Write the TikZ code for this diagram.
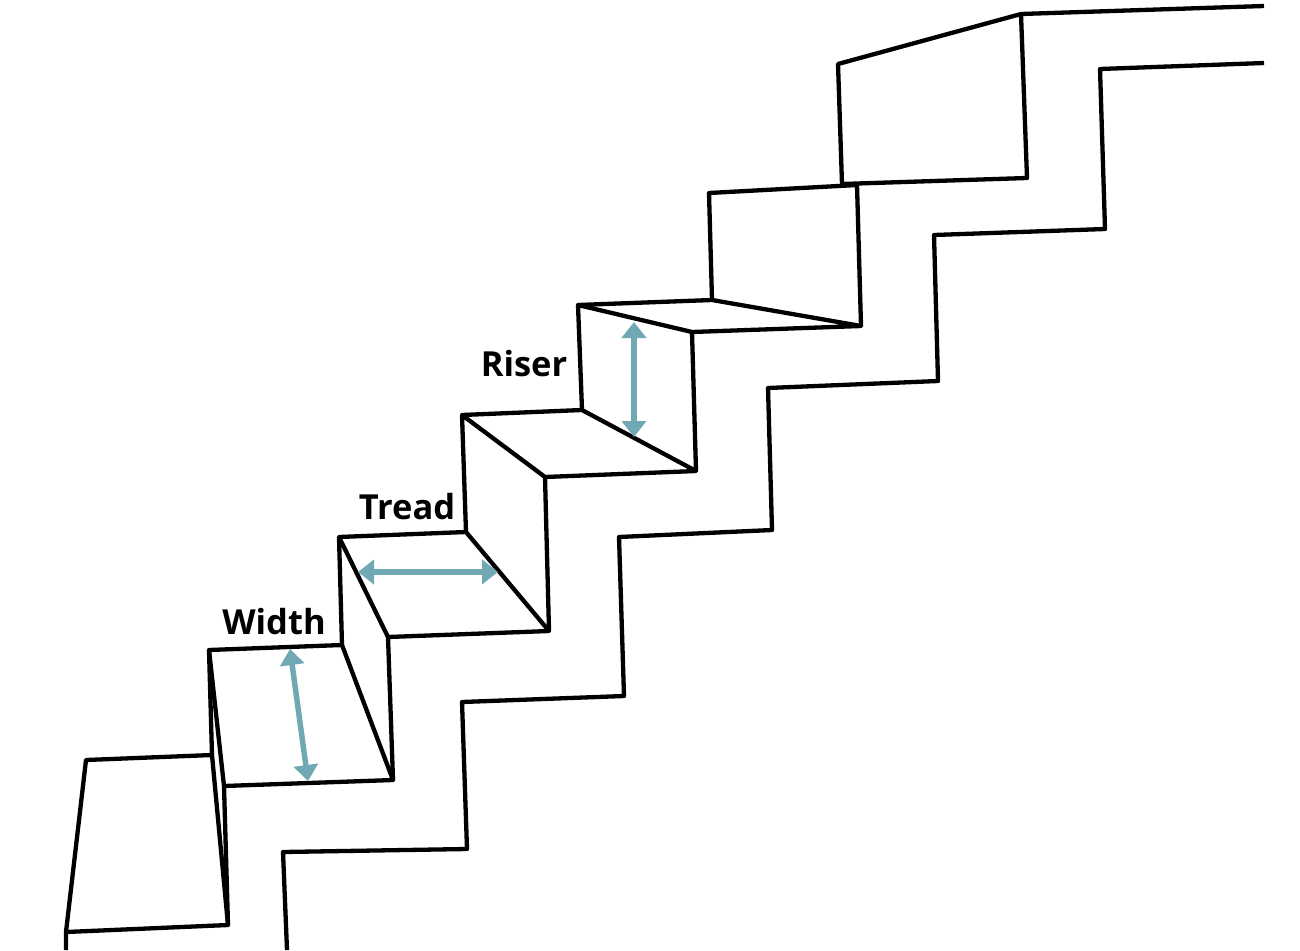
\documentclass[tikz,border=0pt]{standalone}
\usepackage{fontspec}
\setmainfont{Open Sans}
\usepackage{xcolor}
\usetikzlibrary{arrows.meta}
\definecolor{arrowblue}{HTML}{70A9B4}
\tikzset{
	stair/.style={black, line width=4.3pt, line join=round},
	measure/.style={arrowblue, line width=5.5pt, {Triangle[width=24pt,length=16pt]}-{Triangle[width=24pt,length=16pt]}},
	steplabel/.style={black, font=\fontsize{34.5}{35}\selectfont\bfseries, inner sep=0pt}
}
\begin{document}
\begin{tikzpicture}[x=1pt, y=-1pt]
	\useasboundingbox (0, 0) rectangle (1300, 950);
	% upper edge
	\draw[stair] (66, 950)--(66, 932)--(86, 760)--(212, 755);
	\draw[stair] (66, 932)--(228, 925)--(212, 755)--(209, 650);
	\draw[stair] (228, 925)--(224, 786)--(209, 650)--(342, 645)--(393, 780)--(224, 786);
	\draw[stair] (342, 645)--(339, 537)--(388, 637)--(393, 780);
	\draw[stair] (388, 637)--(549, 631)--(466, 532)--(339, 537);
	\draw[stair] (466, 532)--(462, 415)--(545, 477)--(549, 631);
	\draw[stair] (545, 477)--(696, 471)--(582, 410)--(462, 415);
	\draw[stair] (582, 410)--(578, 305)--(692, 332)--(696, 471);
	\draw[stair] (692, 332)--(861, 326)--(712, 300)--(578, 305);
	\draw[stair] (712, 300)--(709, 193)--(857, 185)--(861, 326);
	\draw[stair] (842, 184)--(1027, 178)--(1021, 14)--(838, 64)--(842, 184);
	\draw[stair] (1021, 14)--(1264, 6);
	% lower edge
	\draw[stair] (287, 950)--(283, 852)--(467, 849)--(462, 702)--(624, 696)--(619, 537)--(772, 530)--(768, 388)--(938, 381)--(934, 235)--(1105, 229)--(1100, 69)--(1264, 63);
	% arrows
	\coordinate (widthtop) at (290, 649);
	\coordinate (widthbottom) at (308, 781);
	\coordinate (treadleft) at (358, 572);
	\coordinate (treadright) at (498, 572);
	\coordinate (risertop) at (634, 322);
	\coordinate (riserbottom) at (634, 437);
	\draw[measure] (widthtop)--(widthbottom);
	\draw[measure] (treadleft)--(treadright);
	\draw[measure] (risertop)--(riserbottom);
	\node[steplabel] (width) at (274, 622) {Width};
	\node[steplabel] (tread) at (407, 507) {Tread};
	\node[steplabel] (riser) at (524, 364) {Riser};
\end{tikzpicture}
\end{document}
